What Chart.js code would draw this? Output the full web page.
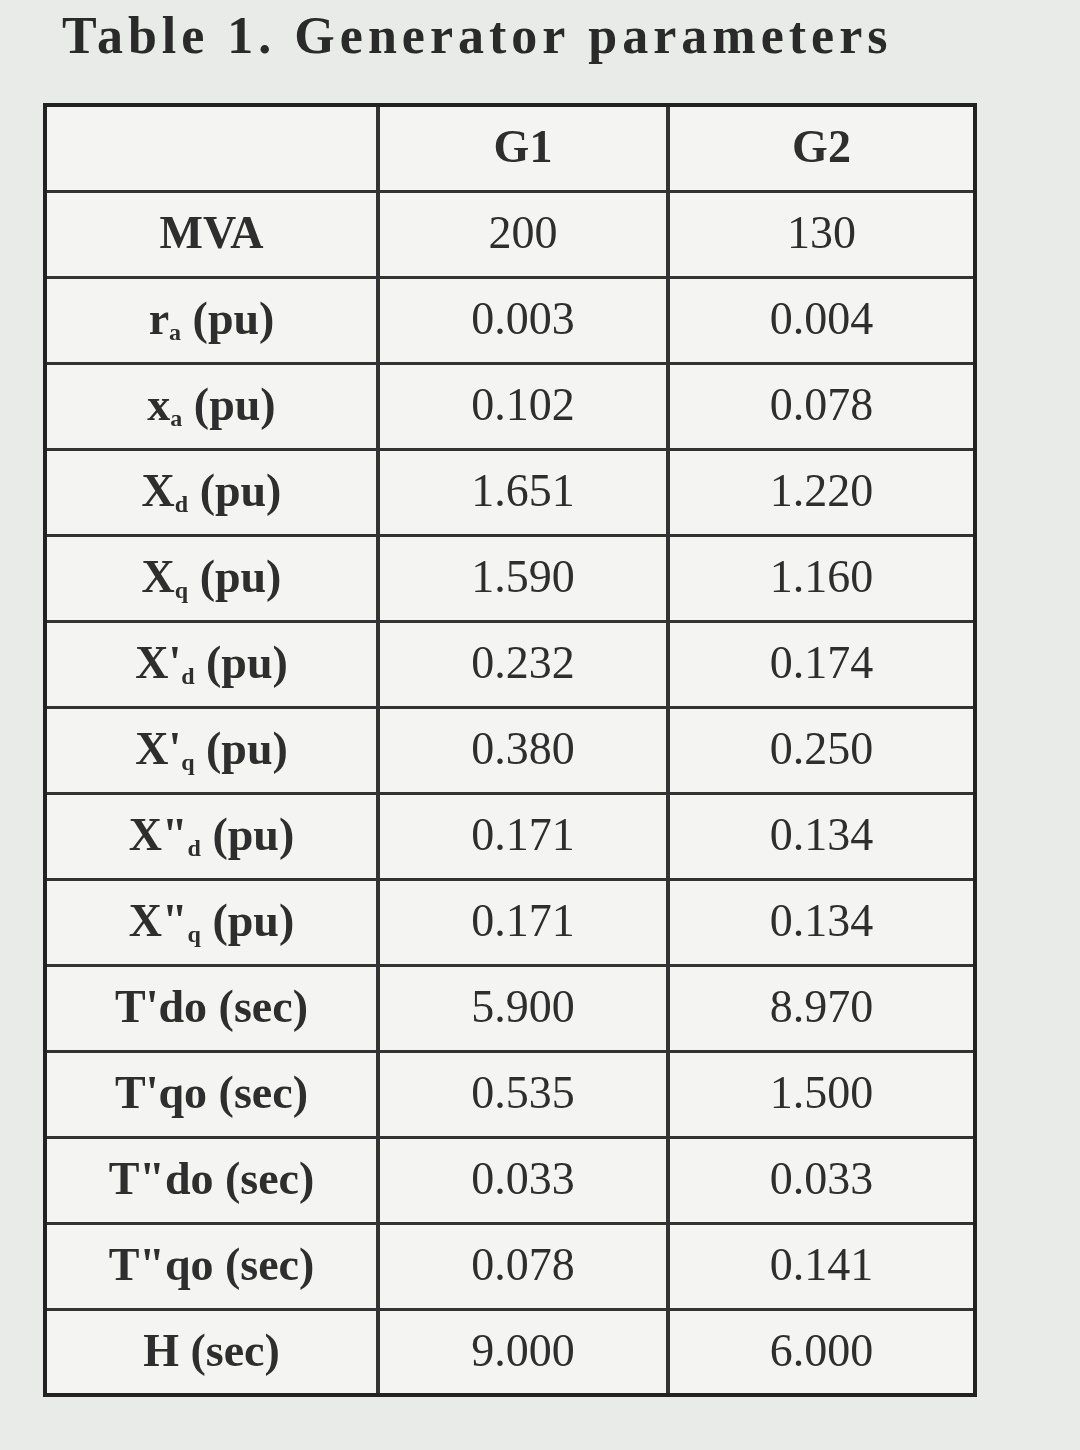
<!DOCTYPE html>
<html><head><meta charset="utf-8">
<script src="https://cdn.jsdelivr.net/npm/chart.js@4"></script>
<style>body{margin:0;background:#e9ebe8}canvas{display:block}</style>
</head><body>
<canvas id="c" width="1080" height="1450"></canvas>
<script>
const titleText = "Table 1. Generator parameters";
const headers = ["", "G1", "G2"];
// label: [main, subscript, rest]
const rowLabels = [
  ["MVA","",""],["r","a"," (pu)"],["x","a"," (pu)"],["X","d"," (pu)"],["X","q"," (pu)"],
  ["X'","d"," (pu)"],["X'","q"," (pu)"],["X\"","d"," (pu)"],["X\"","q"," (pu)"],
  ["T'do (sec)","",""],["T'qo (sec)","",""],["T\"do (sec)","",""],["T\"qo (sec)","",""],["H (sec)","",""]
];
const g1 = ["200","0.003","0.102","1.651","1.590","0.232","0.380","0.171","0.171","5.900","0.535","0.033","0.078","9.000"];
const g2 = ["130","0.004","0.078","1.220","1.160","0.174","0.250","0.134","0.134","8.970","1.500","0.033","0.141","6.000"];
const colEdges = [0, 333, 623, 930];

const nRows = rowLabels.length + 1;
const pts = [];
for (let r = 0; r < nRows; r++) for (let c = 0; c < 3; c++)
  pts.push({x:(colEdges[c]+colEdges[c+1])/2, y:r+0.5, r, c});

function cellText(r,c){
  if (r===0) return [headers[c],"",""];
  if (c===0) return rowLabels[r-1];
  return [c===1?g1[r-1]:g2[r-1],"",""];
}

const textPlugin = {
  id:'txt',
  beforeDraw(ch){
    const {ctx, chartArea:a} = ch;
    ctx.save(); ctx.fillStyle='#f4f5f2'; ctx.fillRect(a.left,a.top,a.right-a.left,a.bottom-a.top); ctx.restore();
  },
  afterDraw(ch){
    const ctx = ch.ctx, xs = ch.scales.x, ys = ch.scales.y, a = ch.chartArea;
    ctx.save();
    ctx.fillStyle='#2a2a2a';
    ctx.font='bold 52px "Liberation Serif"';
    ctx.textBaseline='middle';
    if (ctx.letterSpacing!==undefined) ctx.letterSpacing='5px';
    ctx.fillText(titleText, 62, 40);
    if (ctx.letterSpacing!==undefined) ctx.letterSpacing='0px';
    ctx.strokeStyle='#222'; ctx.lineWidth=4;
    ctx.strokeRect(a.left,a.top,a.right-a.left,a.bottom-a.top);
    for (const p of pts){
      const [m,s,rest] = cellText(p.r,p.c);
      const fs = 46;
      const main = (p.r===0 || p.c===0) ? 'bold '+fs+'px "Liberation Serif"' : fs+'px "Liberation Serif"';
      const sub = 'bold 24px "Liberation Serif"';
      ctx.font=main; const w1=ctx.measureText(m).width, w3=ctx.measureText(rest).width;
      ctx.font=sub; const w2=s?ctx.measureText(s).width:0;
      let x = xs.getPixelForValue(p.x) - (w1+w2+w3)/2;
      const y = ys.getPixelForValue(p.y)+2;
      ctx.textAlign='left';
      ctx.font=main; ctx.fillStyle='#2e2e2e'; ctx.fillText(m,x,y); x+=w1;
      if (s){ ctx.font=sub; ctx.fillText(s,x,y+12); x+=w2; }
      ctx.font=main; ctx.fillText(rest,x,y);
    }
    ctx.restore();
  }
};

new Chart(document.getElementById('c'), {
  type:'scatter',
  data:{datasets:[{data:pts, pointRadius:0}]},
  options:{
    responsive:false, animation:false,
    layout:{padding:{left:45,right:105,top:105,bottom:55}},
    plugins:{legend:{display:false},tooltip:{enabled:false}},
    scales:{
      x:{type:'linear',min:0,max:930,position:'top',
         afterBuildTicks(s){ s.ticks = colEdges.map(v=>({value:v})); },
         ticks:{display:false}, border:{display:false},
         grid:{color:'#333',lineWidth:4,drawTicks:false}},
      y:{type:'linear',min:0,max:nRows,reverse:true,
         afterBuildTicks(s){ s.ticks = Array.from({length:nRows+1},(_,i)=>({value:i})); },
         ticks:{display:false}, border:{display:false},
         grid:{color:'#333',lineWidth:3,drawTicks:false}}
    }
  },
  plugins:[textPlugin]
});
</script>
</body></html>
